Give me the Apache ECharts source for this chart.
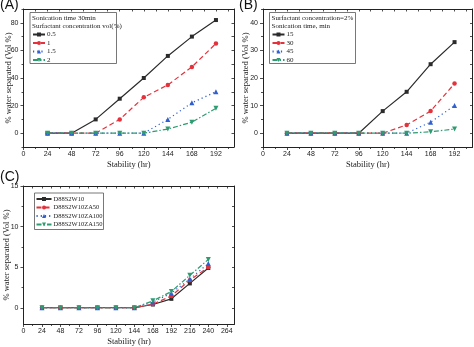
<!DOCTYPE html>
<html><head><meta charset="utf-8">
<script src="https://cdn.jsdelivr.net/npm/echarts@6/dist/echarts.min.js"></script>
<style>html,body{margin:0;padding:0;background:#fff}#c{width:474px;height:347px}</style>
</head><body><div id="c"></div>
<script>
// ---------- Panel A data ----------
const xA = [24, 48, 72, 96, 120, 144, 168, 192];
const a05 = [0, 0, 10, 25, 40, 56, 70, 82];
const a1 = [0, 0, 0, 10, 26, 35, 48, 65];
const a15 = [0, 0, 0, 0, 0, 10, 22, 30];
const a2 = [0, 0, 0, 0, 0, 3, 8, 18];
const namesA = ['0.5', '1', '1.5', '2'];
const titleA = ['Sonication time 30min', 'Surfactant concentration vol(%)'];
const xTicksA = [0, 24, 48, 72, 96, 120, 144, 168, 192];
const xMinorA = [12, 36, 60, 84, 108, 132, 156, 180, 204];
const yTicksA = [0, 20, 40, 60, 80];
const yMinorA = [-10, 10, 30, 50, 70, 90];

// ---------- Panel B data ----------
const xB = [24, 48, 72, 96, 120, 144, 168, 192];
const b15 = [0, 0, 0, 0, 8, 15, 25, 33];
const b30 = [0, 0, 0, 0, 0, 3, 8, 18];
const b45 = [0, 0, 0, 0, 0, 0, 4, 10];
const b60 = [0, 0, 0, 0, 0, 0, 0.5, 1.5];
const namesB = ['15', '30', '45', '60'];
const titleB = ['Surfactant concentration=2%', 'Sonication time, min'];
const xTicksB = [0, 24, 48, 72, 96, 120, 144, 168, 192];
const xMinorB = [12, 36, 60, 84, 108, 132, 156, 180, 204];
const yTicksB = [0, 10, 20, 30, 40];
const yMinorB = [-5, 5, 15, 25, 35, 45];

// ---------- Panel C data ----------
const xC = [24, 48, 72, 96, 120, 144, 168, 192, 216, 240];
const c10 = [0, 0, 0, 0, 0, 0, 0.4, 1.1, 3.0, 4.9];
const c50 = [0, 0, 0, 0, 0, 0, 0.45, 1.45, 3.4, 5.0];
const c100 = [0, 0, 0, 0, 0, 0, 0.7, 1.8, 3.55, 5.45];
const c150 = [0, 0, 0, 0, 0, 0, 0.85, 2.0, 4.0, 5.95];
const namesC = ['D88S2W10', 'D88S2W10ZA50', 'D88S2W10ZA100', 'D88S2W10ZA150'];
const xTicksC = [0, 24, 48, 72, 96, 120, 144, 168, 192, 216, 240, 264];
const xMinorC = [12, 36, 60, 84, 108, 132, 156, 180, 204, 228, 252];
const yTicksC = [0, 5, 10, 15];
const yMinorC = [-2.5, 2.5, 7.5, 12.5];

const xTitle = 'Stability (hr)';
const yTitle = '% water separated (Vol %)';
const panelLabels = ['(A)', '(B)', '(C)'];

// ---------- styling ----------
const AX = '#222';
const SERIF = 'Liberation Serif';
const SANS = 'Liberation Sans';
const colors = ['#2b2b2b', '#e3323b', '#2f5fd0', '#2e9b70'];
const symbols = ['rect', 'circle', 'triangle', 'triangle'];
const rotations = [0, 0, 0, 180];
const sizes = [4, 4.5, 5, 5];
const dashes = ['solid', [5, 3], [1.2, 3], [5, 2, 1.5, 2]];

const grids = [
  { left: 23.5, top: 9, width: 210.5, height: 138 },
  { left: 263, top: 9, width: 209.5, height: 138 },
  { left: 23.5, top: 186, width: 211, height: 138.5 }
];

function makeAxes(dim, g, min, max, major, minor, nameGap) {
  const isX = dim === 'x';
  const main = {
    type: 'value', gridIndex: g, min: min, max: max,
    position: isX ? 'bottom' : 'left',
    name: isX ? xTitle : '', nameLocation: 'middle', nameGap: nameGap,
    nameTextStyle: { fontFamily: SERIF, fontSize: 8.5, color: AX },
    axisLine: { show: true, onZero: false, lineStyle: { color: AX, width: 1 } },
    axisTick: { show: true, inside: false, length: 3, customValues: major, lineStyle: { color: AX, width: 0.8 } },
    axisLabel: { show: true, customValues: major, margin: isX ? 4 : 5, fontFamily: SANS, fontSize: 7, color: AX },
    splitLine: { show: false }
  };
  const mn = {
    type: 'value', gridIndex: g, min: min, max: max,
    position: isX ? 'bottom' : 'left',
    axisLine: { show: false, onZero: false },
    axisTick: { show: true, inside: false, length: 2, customValues: minor, lineStyle: { color: AX, width: 0.8 } },
    axisLabel: { show: false }, splitLine: { show: false }
  };
  const opp = {
    type: 'value', gridIndex: g, min: min, max: max,
    position: isX ? 'top' : 'right',
    axisLine: { show: true, onZero: false, lineStyle: { color: AX, width: 1 } },
    axisTick: { show: true, inside: true, length: 2.5, customValues: major.concat(minor), lineStyle: { color: AX, width: 0.8 } },
    axisLabel: { show: false }, splitLine: { show: false }
  };
  return [main, mn, opp];
}

const xAxis = [].concat(
  makeAxes('x', 0, 0, 210, xTicksA, xMinorA, 13),
  makeAxes('x', 1, 0, 210, xTicksB, xMinorB, 13),
  makeAxes('x', 2, 0, 274, xTicksC, xMinorC, 13)
);
const yAxis = [].concat(
  makeAxes('y', 0, -10, 90, yTicksA, yMinorA, 0),
  makeAxes('y', 1, -5, 45, yTicksB, yMinorB, 0),
  makeAxes('y', 2, -2, 15, yTicksC, yMinorC, 0)
);

function zip(xs, ys) { return xs.map((x, i) => [x, ys[i]]); }

function makeSeries(g, names, xs, ys) {
  return names.map((n, i) => ({
    type: 'line', name: n, xAxisIndex: 3 * g, yAxisIndex: 3 * g,
    data: zip(xs, ys[i]),
    symbol: symbols[i], symbolSize: sizes[i], symbolRotate: rotations[i],
    lineStyle: { color: colors[i], width: 1.2, type: dashes[i] },
    itemStyle: { color: colors[i] },
    emphasis: { disabled: true }, animation: false, z: 2 + i
  }));
}

const series = [].concat(
  makeSeries(0, namesA, xA, [a05, a1, a15, a2]),
  makeSeries(1, namesB, xB, [b15, b30, b45, b60]),
  makeSeries(2, namesC, xC, [c10, c50, c100, c150])
);

function legend(names, left, top, iw, fs) {
  return {
    orient: 'vertical', left: left, top: top, data: names,
    itemWidth: iw, itemHeight: 5, itemGap: 0.5, padding: 0,
    selectedMode: false,
    textStyle: { fontFamily: SERIF, fontSize: fs, color: AX, lineHeight: 8, padding: [0, 0, 0, -3] }
  };
}

function titleText(lines, x, y0) {
  return lines.map((t, i) => ({
    type: 'text', left: x, top: y0 + i * 8.2,
    style: { text: t, font: '7px "' + SERIF + '"', fill: AX }
  }));
}

function yTitleText(cx, cy) {
  return {
    type: 'text', x: cx, y: cy, rotation: Math.PI / 2,
    style: { text: yTitle, font: '8.5px "' + SERIF + '"', fill: AX, align: 'center', verticalAlign: 'middle' }
  };
}

const graphic = [
  { type: 'rect', shape: { x: 30, y: 12.5, width: 86.5, height: 51 }, style: { fill: 'none', stroke: '#555', lineWidth: 0.8 }, z: 10 },
  { type: 'rect', shape: { x: 269.5, y: 12.5, width: 86, height: 51 }, style: { fill: 'none', stroke: '#555', lineWidth: 0.8 }, z: 10 },
  { type: 'rect', shape: { x: 34.5, y: 193, width: 69, height: 36.5 }, style: { fill: 'none', stroke: '#555', lineWidth: 0.8 }, z: 10 },
  { type: 'text', left: 0, top: -2, style: { text: panelLabels[0], font: '14px "' + SANS + '"', fill: '#111' } },
  { type: 'text', left: 239, top: -2, style: { text: panelLabels[1], font: '14px "' + SANS + '"', fill: '#111' } },
  { type: 'text', left: 0, top: 170, style: { text: panelLabels[2], font: '14px "' + SANS + '"', fill: '#111' } },
  yTitleText(8.5, 78),
  yTitleText(246, 78),
  yTitleText(7, 255)
].concat(titleText(titleA, 32, 14.5), titleText(titleB, 271.5, 14.5));

const chart = echarts.init(document.getElementById('c'), null, { renderer: 'canvas' });
chart.setOption({
  animation: false,
  backgroundColor: '#fff',
  grid: grids,
  xAxis: xAxis,
  yAxis: yAxis,
  series: series,
  legend: [
    legend(namesA, 32, 30.5, 12, 7),
    legend(namesB, 271.5, 30.5, 12, 7),
    legend(namesC, 35.5, 195, 15, 6.5)
  ],
  graphic: graphic
});
</script></body></html>
